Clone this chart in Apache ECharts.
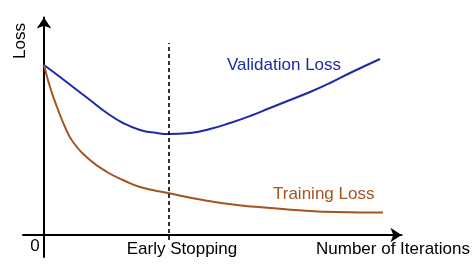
<!DOCTYPE html>
<html>
<head>
<meta charset="utf-8">
<script src="https://cdn.jsdelivr.net/npm/echarts@6/dist/echarts.min.js"></script>
<style>html,body{margin:0;padding:0;background:#fff}#c{width:474px;height:267px}</style>
</head>
<body>
<div id="c"></div>
<script>
// Iterations (x) and loss (y) values
var validationX = [0, 16, 29, 46, 63, 79, 96, 113, 124, 146, 166, 186, 206, 226, 246, 266, 286, 306, 336];
var validationY = [170, 158, 148, 135, 122, 112, 105, 102, 101, 102, 106, 112, 119, 127, 135, 143, 152, 162, 176];
var trainingX = [0, 6, 13, 21, 29, 46, 63, 79, 96, 124, 159, 193, 226, 259, 293, 339];
var trainingY = [170, 148, 128, 108, 93, 75, 63, 55, 48, 42, 35, 30, 27, 24.5, 23, 22.5];
var earlyStopX = 125;
var earlyStopSpan = [-5, 192];
var xRange = [-21, 357.5];
var yRange = [-22, 217.5];
var labels = {
  y: 'Loss', x: 'Number of Iterations', origin: '0', stop: 'Early Stopping',
  val: 'Validation Loss', train: 'Training Loss'
};

var BLUE = '#1c2aa3', BROWN = '#a3541f';
var FONT = '"Liberation Sans", Arial, sans-serif';
function zip(a, b) { return a.map(function (v, i) { return [v, b[i]]; }); }
function txt(x, y, t, color, align, rot) {
  return { type: 'text', x: x, y: y, rotation: rot || 0,
    style: { text: t, fill: color, fontSize: 17, fontFamily: FONT,
      align: align, verticalAlign: 'middle' } };
}

var chart = echarts.init(document.getElementById('c'));
chart.setOption({
  animation: false,
  grid: { left: 23, right: 72.5, top: 17.5, bottom: 10 },
  xAxis: {
    type: 'value', min: xRange[0], max: xRange[1],
    axisLine: { onZero: true, symbol: ['none', 'arrow'], symbolSize: [11, 11],
      lineStyle: { color: '#000', width: 2 } },
    axisTick: { show: false }, axisLabel: { show: false }, splitLine: { show: false }
  },
  yAxis: {
    type: 'value', min: yRange[0], max: yRange[1],
    axisLine: { show: true, onZero: true, symbol: ['none', 'arrow'], symbolSize: [11, 11],
      lineStyle: { color: '#000', width: 2 } },
    axisTick: { show: false }, axisLabel: { show: false }, splitLine: { show: false }
  },
  series: [
    { type: 'line', data: zip(validationX, validationY), smooth: 0.5,
      showSymbol: false, lineStyle: { color: BLUE, width: 2 }, clip: false },
    { type: 'line', data: zip(trainingX, trainingY), smooth: 0.5,
      showSymbol: false, lineStyle: { color: BROWN, width: 2 }, clip: false },
    { type: 'line', data: [[earlyStopX, earlyStopSpan[0]], [earlyStopX, earlyStopSpan[1]]],
      showSymbol: false, lineStyle: { color: '#000', width: 1.6, type: [4, 3] }, clip: false }
  ],
  graphic: [
    txt(20, 41, labels.y, '#000', 'center', Math.PI / 2),
    txt(35, 246.5, labels.origin, '#000', 'center'),
    txt(182, 249, labels.stop, '#000', 'center'),
    txt(316, 249, labels.x, '#000', 'left'),
    txt(227, 65, labels.val, BLUE, 'left'),
    txt(273, 194.5, labels.train, BROWN, 'left')
  ]
});
</script>
</body>
</html>
